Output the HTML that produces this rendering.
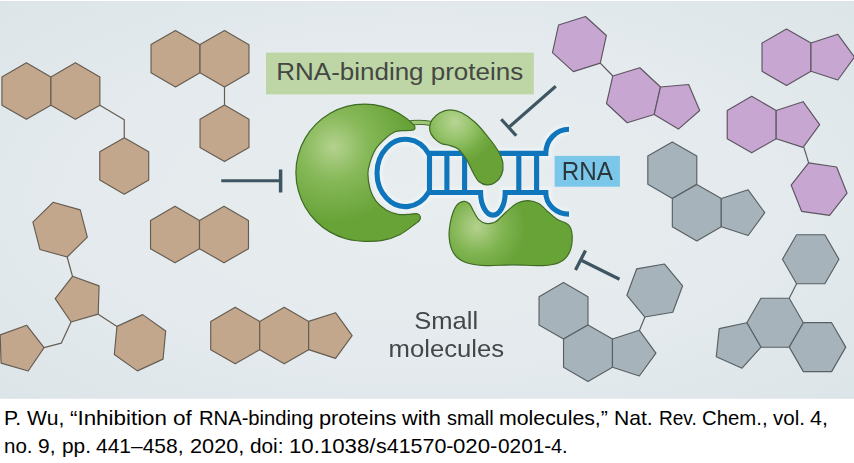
<!DOCTYPE html>
<html lang="en">
<head>
<meta charset="utf-8">
<title>Inhibition of RNA-binding proteins with small molecules</title>
<style>
  html, body { margin: 0; padding: 0; background: #ffffff; }
  body { width: 854px; height: 463px; overflow: hidden; position: relative; font-family: "Liberation Sans", sans-serif; }
  #fig { position: absolute; left: 0; top: 0; width: 854px; height: 399px; display: block; filter: blur(0.55px); }
  .cap { position: absolute; left: 0; margin: 0; width: 854px; height: 25px; color: #000; font-size: 20.6px; line-height: 25px; }
  .cap span { position: absolute; top: 0; white-space: pre; display: block; transform-origin: 0 50%; }
</style>
</head>
<body>
<svg id="fig" width="854" height="399" viewBox="0 0 854 399">
  <defs>
    <radialGradient id="bg" cx="0.5" cy="0.5" r="0.75">
      <stop offset="0" stop-color="#e8edef"/>
      <stop offset="0.55" stop-color="#e4eaed"/>
      <stop offset="1" stop-color="#dbe4e8"/>
    </radialGradient>
    <radialGradient id="gBig" gradientUnits="userSpaceOnUse" cx="334" cy="147" r="75">
      <stop offset="0" stop-color="#b4d28e"/>
      <stop offset="0.45" stop-color="#86b858"/>
      <stop offset="1" stop-color="#68a338"/>
    </radialGradient>
    <radialGradient id="gBean" gradientUnits="userSpaceOnUse" cx="455" cy="122" r="42">
      <stop offset="0" stop-color="#b7d594"/>
      <stop offset="0.4" stop-color="#97c46c"/>
      <stop offset="0.8" stop-color="#74ab43"/>
      <stop offset="1" stop-color="#69a338"/>
    </radialGradient>
    <radialGradient id="gBlob" gradientUnits="userSpaceOnUse" cx="477" cy="227" r="48">
      <stop offset="0" stop-color="#b4d28e"/>
      <stop offset="0.55" stop-color="#80b451"/>
      <stop offset="1" stop-color="#68a338"/>
    </radialGradient>
    <filter id="soft" x="-10%" y="-10%" width="120%" height="120%"><feGaussianBlur stdDeviation="1.6"/></filter>
  </defs>
  <rect x="0" y="0" width="854" height="398.8" fill="url(#bg)"/>
  <rect x="0" y="0" width="854" height="1" fill="#ffffff"/>

<g transform="translate(0,0.15)">
<g fill="none" stroke="#655c51" stroke-width="1.2" stroke-linejoin="round">
<polyline points="99.90,105.05 124.25,119.50 124.25,137.50"/>
<polyline points="224.50,86.90 224.50,104.90"/>
<polyline points="67.17,256.85 72.50,276.17"/>
<polyline points="98.19,313.98 116.97,326.24"/>
<polyline points="71.06,321.86 61.25,343.00 44.07,347.50"/>
</g>
<g fill="#c3a78c" stroke="#655c51" stroke-width="1.15" stroke-linejoin="round">
<polygon points="26.40,62.65 50.87,76.78 50.87,105.03 26.40,119.15 1.93,105.03 1.93,76.78"/>
<polygon points="75.40,62.65 99.87,76.78 99.87,105.03 75.40,119.15 50.93,105.03 50.93,76.78"/>
<polygon points="124.25,137.55 148.72,151.68 148.72,179.93 124.25,194.05 99.78,179.93 99.78,151.68"/>
<polygon points="175.50,30.35 199.97,44.48 199.97,72.72 175.50,86.85 151.03,72.72 151.03,44.47"/>
<polygon points="224.50,30.35 248.97,44.48 248.97,72.72 224.50,86.85 200.03,72.72 200.03,44.47"/>
<polygon points="224.50,104.95 248.97,119.07 248.97,147.32 224.50,161.45 200.03,147.32 200.03,119.07"/>
<polygon points="175.00,206.15 199.47,220.28 199.47,248.53 175.00,262.65 150.53,248.53 150.53,220.28"/>
<polygon points="224.00,206.15 248.47,220.28 248.47,248.53 224.00,262.65 199.53,248.53 199.53,220.28"/>
<polygon points="235.20,307.15 259.67,321.27 259.67,349.52 235.20,363.65 210.73,349.52 210.73,321.27"/>
<polygon points="284.20,307.15 308.67,321.27 308.67,349.52 284.20,363.65 259.73,349.52 259.73,321.27"/>
<polygon points="308.67,321.27 308.67,349.52 335.53,358.25 352.14,335.40 335.53,312.55"/>
<polygon points="53.03,202.15 80.25,209.70 87.32,237.05 67.17,256.85 39.95,249.30 32.88,221.95"/>
<polygon points="72.50,276.17 99.08,285.74 98.19,313.98 71.06,321.86 55.18,298.50"/>
<polygon points="116.97,326.24 142.66,314.48 165.69,330.84 163.03,358.96 137.34,370.72 114.31,354.36"/>
<polygon points="44.07,347.50 28.19,370.86 1.06,362.98 0.17,334.74 26.75,325.17"/>
</g>
<g fill="none" stroke="#5d5560" stroke-width="1.2" stroke-linejoin="round">
<polyline points="600.26,62.95 612.84,75.83"/>
<polyline points="803.75,146.75 808.65,162.75"/>
</g>
<g fill="#c7a7d1" stroke="#5d5560" stroke-width="1.15" stroke-linejoin="round">
<polygon points="585.47,16.31 606.33,35.36 600.26,62.95 573.33,71.49 552.47,52.44 558.54,24.85"/>
<polygon points="612.84,75.83 639.85,67.57 660.52,86.84 654.16,114.37 627.15,122.63 606.48,103.36"/>
<polygon points="660.52,86.84 654.16,114.37 678.38,128.92 699.70,110.38 688.66,84.38"/>
<polygon points="786.50,28.75 810.97,42.88 810.97,71.12 786.50,85.25 762.03,71.12 762.03,42.88"/>
<polygon points="810.97,42.88 810.97,71.12 837.83,79.85 854.44,57.00 837.83,34.15"/>
<polygon points="751.70,96.15 776.17,110.28 776.17,138.53 751.70,152.65 727.23,138.53 727.23,110.28"/>
<polygon points="776.17,110.28 776.17,138.53 803.03,147.25 819.64,124.40 803.03,101.55"/>
<polygon points="808.65,162.75 836.61,166.83 847.05,193.08 829.55,215.25 801.59,211.17 791.15,184.92"/>
</g>
<g fill="none" stroke="#596064" stroke-width="1.2" stroke-linejoin="round">
<polyline points="639.50,330.00 644.95,316.90"/>
<polyline points="796.58,283.57 789.23,298.13"/>
</g>
<g fill="#a6b3bb" stroke="#596064" stroke-width="1.15" stroke-linejoin="round">
<polygon points="672.30,141.75 696.77,155.88 696.77,184.12 672.30,198.25 647.83,184.12 647.83,155.88"/>
<polygon points="696.80,184.25 721.27,198.38 721.27,226.62 696.80,240.75 672.33,226.62 672.33,198.38"/>
<polygon points="721.27,198.38 721.27,226.62 748.13,235.35 764.74,212.50 748.13,189.65"/>
<polygon points="563.50,282.35 587.97,296.48 587.97,324.73 563.50,338.85 539.03,324.73 539.03,296.48"/>
<polygon points="588.00,324.75 612.47,338.88 612.47,367.12 588.00,381.25 563.53,367.12 563.53,338.88"/>
<polygon points="612.47,338.88 612.47,367.12 639.33,375.85 655.94,353.00 639.33,330.15"/>
<polygon points="636.70,268.66 664.55,263.90 682.60,285.64 672.80,312.14 644.95,316.90 626.90,295.16"/>
<polygon points="838.95,259.10 824.83,283.57 796.58,283.57 782.45,259.10 796.58,234.63 824.83,234.63"/>
<polygon points="803.35,322.60 789.23,347.07 760.98,347.07 746.85,322.60 760.98,298.13 789.23,298.13"/>
<polygon points="845.75,347.00 831.62,371.47 803.38,371.47 789.25,347.00 803.38,322.53 831.62,322.53"/>
<polygon points="746.85,322.60 760.98,347.07 742.07,368.06 716.26,356.57 719.22,328.47"/>
</g>
</g>

  <!-- labels -->
  <rect x="266" y="52.6" width="267.8" height="41.8" fill="#bed6a5"/>
  <text x="276.3" y="79.8" font-family="'Liberation Sans', sans-serif" font-size="24.4" fill="#444744" opacity="0.999" textLength="246.9" lengthAdjust="spacingAndGlyphs">RNA-binding proteins</text>
  <rect x="554.6" y="155.9" width="65.3" height="30.8" fill="#7ac7e9"/>
  <text x="561.85" y="179.6" font-family="'Liberation Sans', sans-serif" font-size="25.4" fill="#2c363d" opacity="0.999" textLength="51.15" lengthAdjust="spacingAndGlyphs">RNA</text>
  <text x="414.3" y="329.3" font-family="'Liberation Sans', sans-serif" font-size="24.8" fill="#444749" opacity="0.999" textLength="63.9" lengthAdjust="spacingAndGlyphs">Small</text>
  <text x="388.5" y="356.9" font-family="'Liberation Sans', sans-serif" font-size="24.8" fill="#444749" opacity="0.999" textLength="115.7" lengthAdjust="spacingAndGlyphs">molecules</text>

  <!-- inhibition marks -->
  <g stroke="#3d5662" fill="none" stroke-linecap="butt">
    <path d="M221.25,180.75 H280.6" stroke-width="3.1"/>
    <path d="M280.6,169.5 V192.5" stroke-width="3.5"/>
    <path d="M555.75,86.25 L509.5,126.75" stroke-width="3.1"/>
    <path d="M501.25,119.25 L516.25,135.75" stroke-width="3.3"/>
    <path d="M619.5,279.25 L580.75,260" stroke-width="3.1"/>
    <path d="M585.5,250.5 L575.5,270" stroke-width="3.3"/>
  </g>

  <!-- big protein -->
<path d="M408.5,120.9 C416,119.9 424,120.1 432,121.4 L431,125.6 C424,124.3 419,124 414,125Z" fill="#9fc777" stroke="#3f6b24" stroke-width="1"/>
<path d="M413.01,124.19 C410.37,121.54 403.93,116.25 398.80,113.29 C393.67,110.33 387.97,107.97 382.25,106.44 C376.54,104.91 370.42,104.10 364.50,104.10 C358.58,104.10 352.46,104.91 346.75,106.44 C341.03,107.97 335.33,110.33 330.20,113.29 C325.07,116.25 320.18,120.01 315.99,124.19 C311.81,128.38 308.05,133.27 305.09,138.40 C302.13,143.53 299.77,149.23 298.24,154.95 C296.71,160.66 295.90,166.78 295.90,172.70 C295.90,178.62 296.71,184.74 298.24,190.45 C299.77,196.17 302.13,201.87 305.09,207.00 C308.05,212.13 311.81,217.02 315.99,221.21 C320.18,225.39 325.07,229.15 330.20,232.11 C335.33,235.07 341.03,237.43 346.75,238.96 C352.46,240.49 358.52,241.07 364.50,241.30 C370.48,241.53 376.69,241.51 382.63,240.37 C388.57,239.22 394.67,237.22 400.14,234.44 C405.62,231.66 412.31,226.00 415.49,223.69 C418.67,221.38 418.40,221.78 419.20,220.60 C420.00,219.42 420.68,217.75 420.30,216.60 C419.92,215.45 418.68,214.08 416.90,213.70 C415.12,213.32 412.77,214.20 409.60,214.30 C406.43,214.40 401.80,215.02 397.90,214.30 C394.00,213.58 389.85,212.18 386.20,210.00 C382.55,207.82 378.67,204.62 376.00,201.20 C373.33,197.78 371.55,194.12 370.20,189.50 C368.85,184.88 367.90,178.10 367.90,173.50 C367.90,168.90 368.85,166.03 370.20,161.90 C371.55,157.77 373.33,152.72 376.00,148.70 C378.67,144.68 383.03,140.62 386.20,137.80 C389.37,134.98 392.37,132.98 395.00,131.80 C397.63,130.62 399.57,130.92 402.00,130.70 C404.43,130.48 407.50,130.75 409.60,130.50 C411.70,130.25 414.03,130.25 414.60,129.20 C415.17,128.15 415.64,126.84 413.01,124.19Z" fill="url(#gBig)" stroke="#3f6b24" stroke-width="1.2" stroke-linejoin="round"/>

  <!-- RNA -->
  <path d="M569,129.3 A23.2,24.1 0 0 0 545.8,153.4 H428.5 A28.4,33.6 0 1 0 428.5,192.5 H480.6 A12.3,22.6 0 0 0 505.2,192.5 H545.8 A23.2,21.6 0 0 0 569,214.1" fill="none" stroke="#f4f9fb" stroke-opacity="0.55" stroke-width="11" filter="url(#soft)"/>
  <g fill="none" stroke="#1076bc" stroke-width="5.1" stroke-linejoin="miter">
    <path d="M569,129.3 A23.2,24.1 0 0 0 545.8,153.4 H428.5 A28.4,33.6 0 1 0 428.5,192.5 H480.6 A12.3,22.6 0 0 0 505.2,192.5 H545.8 A23.2,21.6 0 0 0 569,214.1"/>
    <path d="M429.5,153.4 V192.5 M446.9,153.4 V192.5 M464.6,153.4 V192.5 M518.8,153.4 V192.5 M536.6,153.4 V192.5"/>
  </g>

  <!-- small proteins -->
<path d="M429.60,127.50 C429.75,125.05 430.48,122.15 432.20,119.70 C433.92,117.25 436.93,114.43 439.90,112.80 C442.87,111.17 446.37,109.90 450.00,109.90 C453.63,109.90 457.48,110.70 461.70,112.80 C465.92,114.90 470.77,118.30 475.30,122.50 C479.83,126.70 485.02,133.13 488.90,138.00 C492.78,142.87 496.27,147.48 498.60,151.70 C500.93,155.92 502.42,159.42 502.90,163.30 C503.38,167.18 502.87,171.75 501.50,175.00 C500.13,178.25 497.13,181.15 494.70,182.80 C492.27,184.45 489.48,185.07 486.90,184.90 C484.32,184.73 481.47,183.78 479.20,181.80 C476.93,179.82 475.42,176.73 473.30,173.00 C471.18,169.27 469.08,163.45 466.50,159.40 C463.92,155.35 460.90,151.10 457.80,148.70 C454.70,146.30 450.58,145.83 447.90,145.00 C445.22,144.17 443.60,144.47 441.70,143.70 C439.80,142.93 438.23,141.95 436.50,140.40 C434.77,138.85 432.45,136.55 431.30,134.40 C430.15,132.25 429.45,129.95 429.60,127.50Z" fill="url(#gBean)" stroke="#3f6b24" stroke-width="1.2"/>
<path d="M463.90,201.40 C461.75,201.70 458.65,202.60 456.50,205.60 C454.35,208.60 452.22,214.05 451.00,219.40 C449.78,224.75 448.73,232.05 449.20,237.70 C449.67,243.35 451.05,249.17 453.80,253.30 C456.55,257.43 460.35,260.45 465.70,262.50 C471.05,264.55 477.95,265.22 485.90,265.60 C493.85,265.98 503.92,264.80 513.40,264.80 C522.88,264.80 535.15,265.98 542.80,265.60 C550.45,265.22 554.87,264.70 559.30,262.50 C563.73,260.30 567.25,256.83 569.40,252.40 C571.55,247.97 572.35,240.48 572.20,235.90 C572.05,231.32 570.95,227.65 568.50,224.90 C566.05,222.15 560.87,221.55 557.50,219.40 C554.13,217.25 551.37,214.60 548.30,212.00 C545.23,209.40 542.47,205.70 539.10,203.80 C535.73,201.90 531.77,200.70 528.10,200.60 C524.43,200.50 520.77,201.30 517.10,203.20 C513.43,205.10 509.77,208.85 506.10,212.00 C502.43,215.15 498.47,220.20 495.10,222.10 C491.73,224.00 488.65,223.85 485.90,223.40 C483.15,222.95 480.75,221.60 478.60,219.40 C476.45,217.20 474.53,212.80 473.00,210.20 C471.47,207.60 470.92,205.27 469.40,203.80 C467.88,202.33 466.05,201.10 463.90,201.40Z" fill="url(#gBlob)" stroke="#3f6b24" stroke-width="1.2"/>
</svg>
<p class="cap" id="c1" style="top:404.7px"><span style="left:4.07px;transform:scaleX(1.0254)">P. Wu, </span><span style="left:70.20px;transform:scaleX(1.0861)">“Inhibition </span><span style="left:173.40px;transform:scaleX(1.0964)">of </span><span style="left:198.62px;transform:scaleX(0.9806)">RNA-binding </span><span style="left:318.64px;transform:scaleX(1.0573)">proteins </span><span style="left:402.16px;transform:scaleX(1.0590)">with </span><span style="left:447.00px;transform:scaleX(0.9712)">small </span><span style="left:499.17px;transform:scaleX(1.0341)">molecules,” </span><span style="left:613.97px;transform:scaleX(1.0255)">Nat. </span><span style="left:658.68px;transform:scaleX(0.9240)">Rev. </span><span style="left:701.61px;transform:scaleX(0.9874)">Chem., </span><span style="left:772.80px;transform:scaleX(0.9955)">vol. </span><span style="left:810.40px;transform:scaleX(1.0419)">4,</span></p>
<p class="cap" id="c2" style="top:433.2px"><span style="left:4.10px;transform:scaleX(0.9985)">no. </span><span style="left:38.40px;transform:scaleX(1.0169)">9, </span><span style="left:61.69px;transform:scaleX(1.0105)">pp. </span><span style="left:96.40px;transform:scaleX(1.0193)">441–458, </span><span style="left:189.74px;transform:scaleX(1.0559)">2020, </span><span style="left:250.20px;transform:scaleX(1.0094)">doi: </span><span style="left:289.42px;transform:scaleX(1.0788)">10.1038/</span><span style="left:375.90px;transform:scaleX(1.0414)">s41570-</span><span style="left:453.40px;transform:scaleX(1.0772)">020-</span><span style="left:497.80px;transform:scaleX(1.0119)">0201-</span><span style="left:551.10px;transform:scaleX(0.9707)">4.</span></p>
</body>
</html>
